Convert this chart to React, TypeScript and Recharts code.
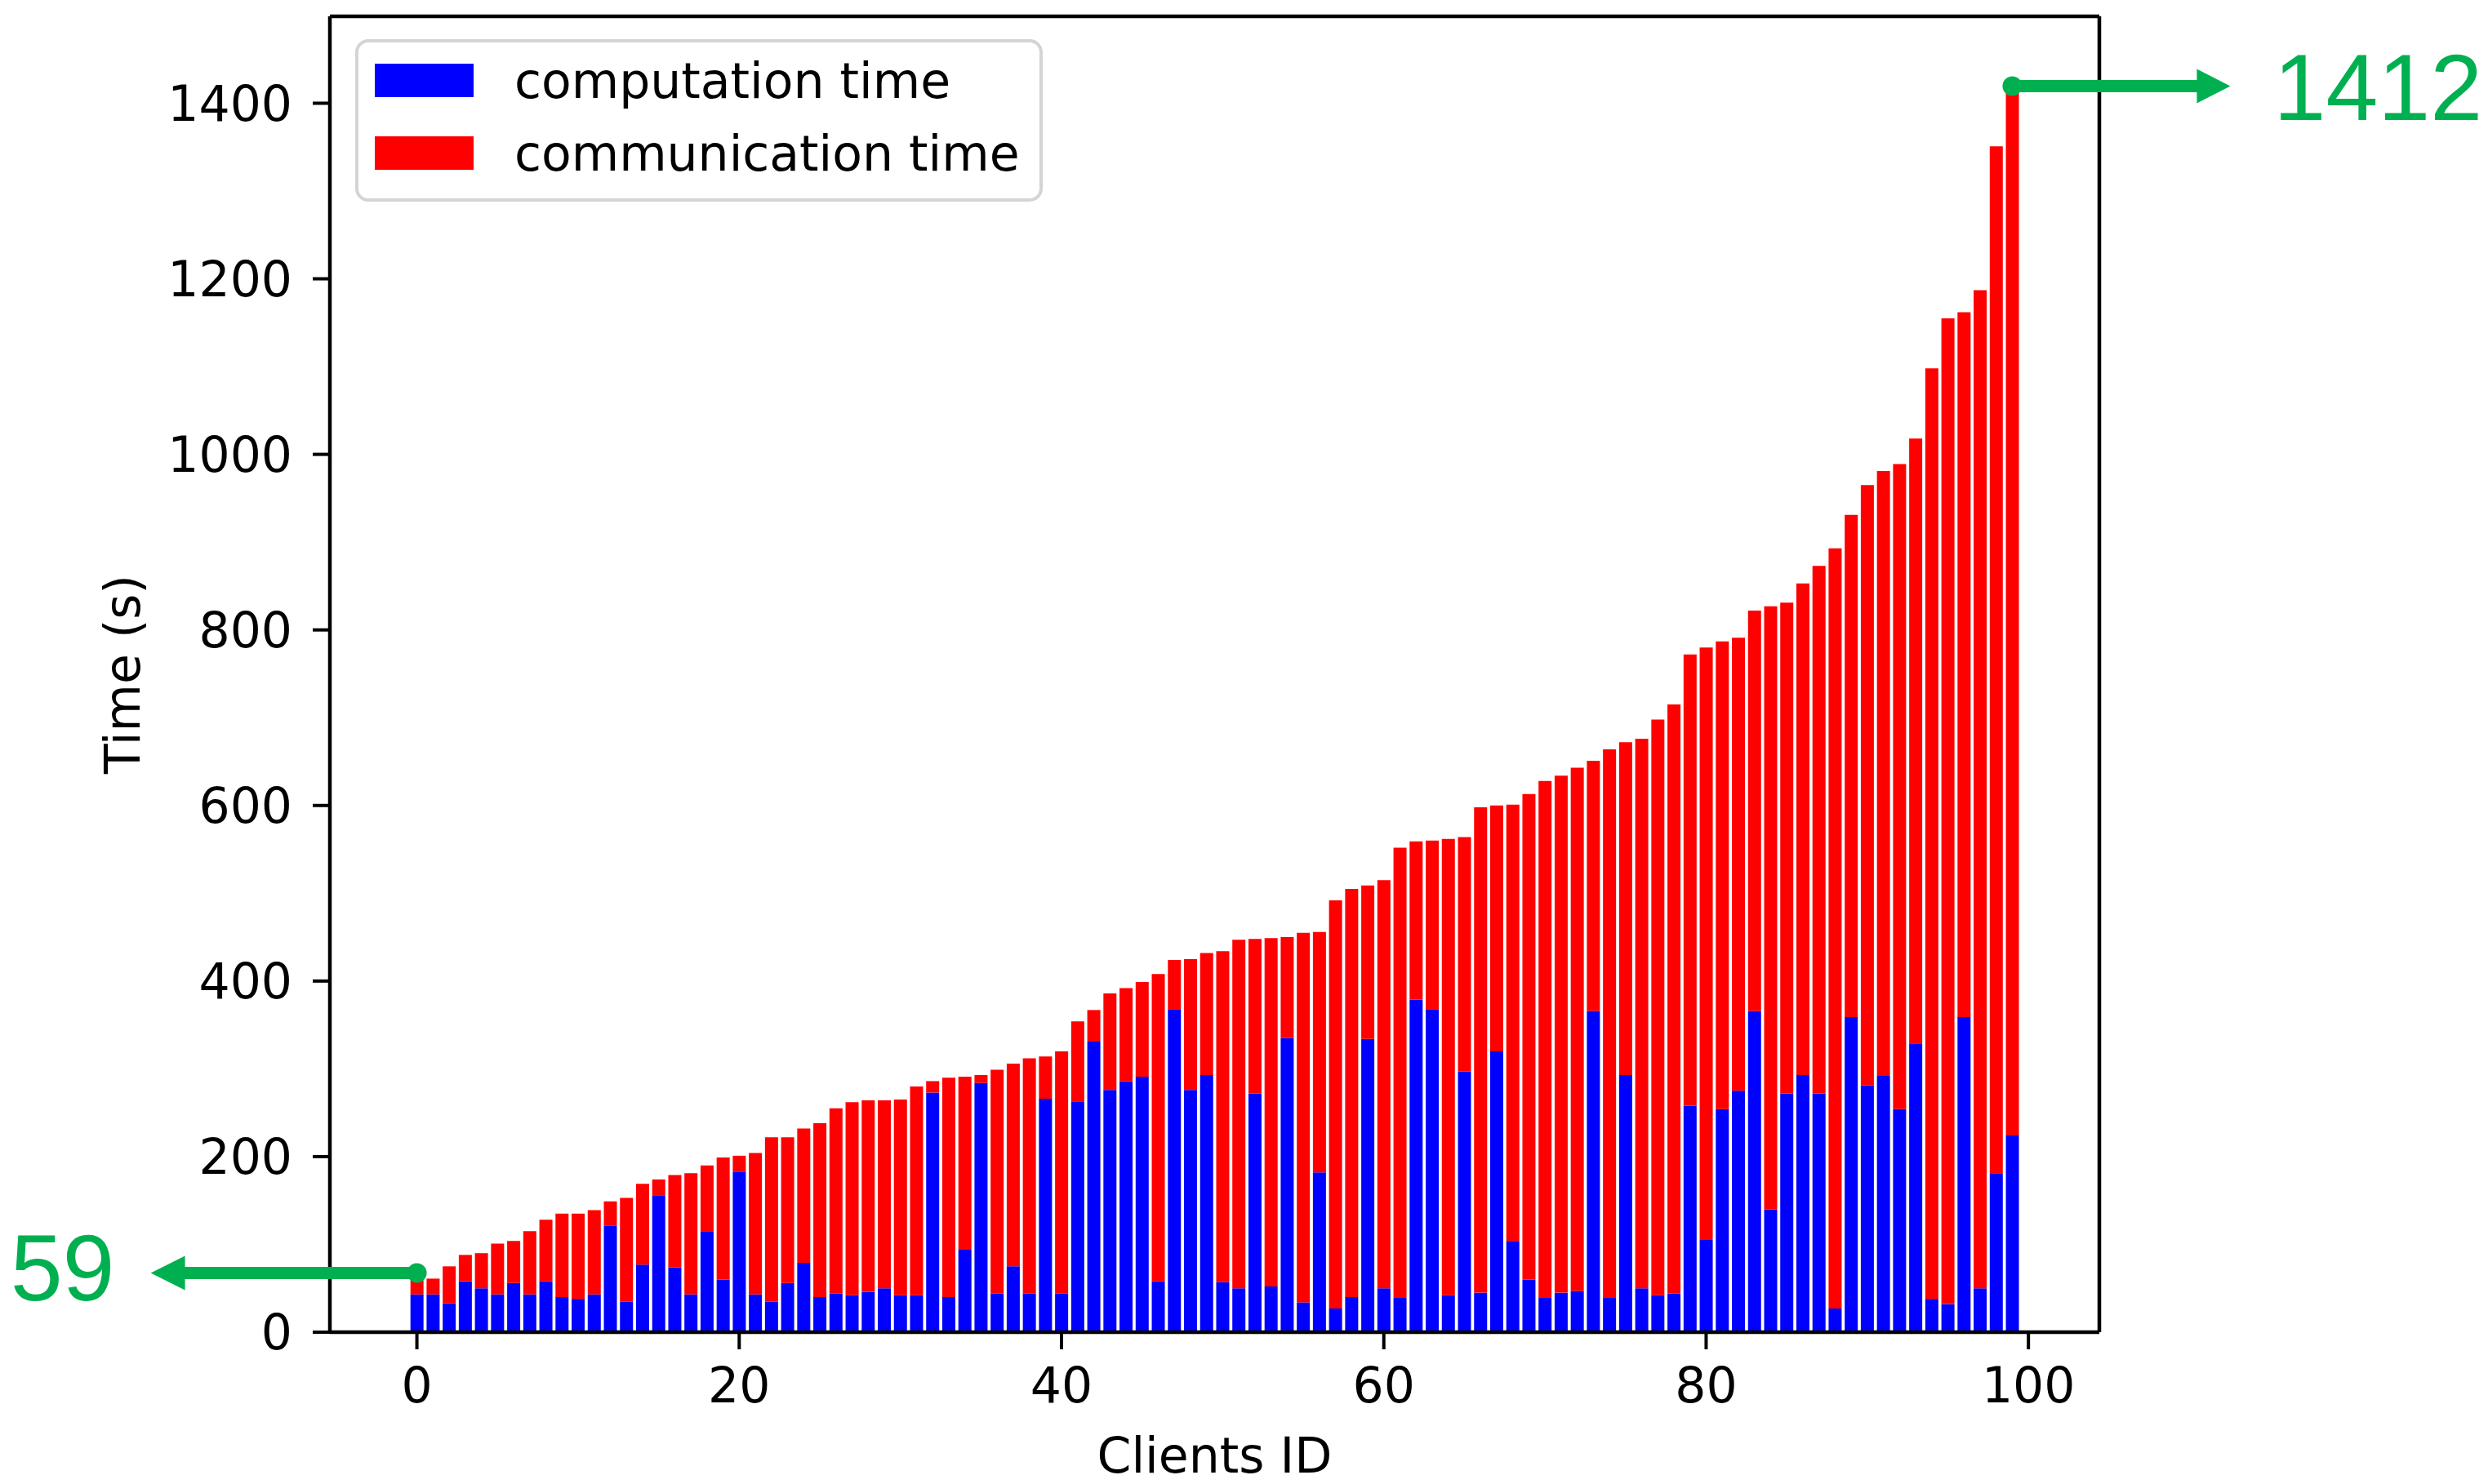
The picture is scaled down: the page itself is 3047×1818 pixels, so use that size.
import { BarChart, Bar, XAxis, YAxis, CartesianGrid, Legend, ReferenceDot } from 'recharts';

// #region Sample data
// time (s) per client, sorted by total time
const computation = [
  43, 43, 33, 58, 50, 43, 56, 43, 58, 40,
  38, 43, 121, 35, 77, 156, 74, 43, 115, 60,
  183, 43, 35, 56, 79, 40, 44, 42, 46, 50,
  42, 42, 273, 40, 94, 284, 44, 75, 44, 266,
  44, 263, 331, 276, 286, 291, 58, 368, 276, 293,
  57, 50, 272, 52, 335, 34, 182, 27, 40, 334,
  50, 39, 379, 368, 42, 297, 45, 320, 104, 60,
  39, 45, 47, 366, 39, 293, 50, 42, 44, 258,
  105, 254, 275, 366, 140, 272, 293, 272, 27, 359,
  281, 292, 254, 329, 38, 32, 359, 50, 181, 224,
];

const communication = [
  16, 18, 42, 30, 40, 58, 48, 72, 70, 95,
  97, 96, 28, 118, 92, 18, 105, 138, 75, 139,
  18, 161, 187, 166, 153, 198, 211, 220, 218, 214,
  223, 238, 13, 250, 197, 9, 255, 231, 268, 48,
  276, 91, 36, 110, 106, 108, 350, 56, 149, 139,
  377, 397, 176, 397, 115, 421, 274, 465, 465, 175,
  465, 513, 180, 192, 520, 267, 553, 280, 497, 553,
  589, 589, 596, 285, 625, 379, 626, 656, 671, 514,
  675, 533, 516, 456, 687, 559, 560, 601, 866, 572,
  684, 689, 735, 689, 1060, 1123, 803, 1137, 1170, 1188,
];

const clientIds = computation.map((_, i) => i);
const seriesNames = ['computation time', 'communication time'];
const xTicks = [0, 20, 40, 60, 80, 100];
const yTicks = [0, 200, 400, 600, 800, 1000, 1200, 1400];

// annotated extremes
const minClient = 0;
const minTotal = 59;
const maxClient = 99;
const maxTotal = 1412;
// #endregion

const data = clientIds.map((id, i) => ({
  id,
  computation: computation[i],
  communication: communication[i],
}));

const W = 3047;
const H = 1818;
const PLOT_LEFT = 404;
const PLOT_TOP = 20;
const PLOT_RIGHT = 2571;
const PLOT_BOTTOM = 1632;

const GREEN = '#00B050';
const AXIS_FONT = 'DejaVu Sans';
const ANNOT_FONT = 'Liberation Sans, Arial, sans-serif';

const LeftArrow = (props: any) => {
  const { cx, cy } = props;
  const ay = cy - 9;
  return (
    <g>
      <line x1={cx} y1={ay} x2={cx - 285} y2={ay} stroke={GREEN} strokeWidth={15} />
      <polygon points={`${cx - 326},${ay} ${cx - 284},${ay - 21} ${cx - 284},${ay + 21}`} fill={GREEN} />
      <circle cx={cx} cy={ay} r={12} fill={GREEN} />
      <text x={cx - 370} y={ay + 33} textAnchor="end" fontSize={115} fontFamily={ANNOT_FONT} fill={GREEN}>
        {minTotal}
      </text>
    </g>
  );
};

const RightArrow = (props: any) => {
  const { cx, cy } = props;
  const ay = cy - 8;
  return (
    <g>
      <line x1={cx} y1={ay} x2={cx + 228} y2={ay} stroke={GREEN} strokeWidth={15} />
      <polygon points={`${cx + 267},${ay} ${cx + 226},${ay - 21} ${cx + 226},${ay + 21}`} fill={GREEN} />
      <circle cx={cx} cy={ay} r={12} fill={GREEN} />
      <text x={cx + 320} y={ay + 41} textAnchor="start" fontSize={115} fontFamily={ANNOT_FONT} fill={GREEN}>
        {maxTotal}
      </text>
    </g>
  );
};

const LegendBox = (props: any) => {
  const items = [...(props.payload || [])].sort(
    (a: any, b: any) => seriesNames.indexOf(a.value) - seriesNames.indexOf(b.value),
  );
  return (
    <svg width={842} height={199} style={{ display: 'block' }}>
      <rect x={2} y={2} width={838} height={195} rx={14} ry={14} fill="#ffffff" fillOpacity={0.8} stroke="#d4d4d4" strokeWidth={4} />
      {items.map((entry: any, i: number) => (
        <g key={entry.value}>
          <rect x={24} y={30 + i * 89} width={121} height={41} fill={entry.color} />
          <text x={195} y={72 + i * 89} fontSize={60} fontFamily={AXIS_FONT} fill="#000">
            {entry.value}
          </text>
        </g>
      ))}
    </svg>
  );
};

const ClientTimeChart = () => {
  const tickStyle = { fontSize: 60, fill: '#000', fontFamily: AXIS_FONT };
  return (
    <div style={{ position: 'absolute', left: 0, top: 0, width: W, height: H, background: '#fff' }}>
      <style>{'body{margin:0;overflow:hidden;background:#fff}'}</style>
      <BarChart
        width={W}
        height={H}
        data={data}
        margin={{ top: PLOT_TOP, right: W - PLOT_RIGHT, left: 0, bottom: 0 }}
      >
        <CartesianGrid
          horizontal
          vertical
          horizontalPoints={[PLOT_TOP]}
          verticalPoints={[PLOT_RIGHT]}
          stroke="#000"
          strokeWidth={4.5}
        />
        <Legend
          layout="vertical"
          align="center"
          verticalAlign="middle"
          wrapperStyle={{ left: 435, top: 48, width: 842, height: 199 }}
          content={<LegendBox />}
        />
        <Bar dataKey="computation" name={seriesNames[0]} stackId="a" fill="#0000ff" isAnimationActive={false} />
        <Bar dataKey="communication" name={seriesNames[1]} stackId="a" fill="#ff0000" isAnimationActive={false} />
        <XAxis
          dataKey="id"
          type="number"
          domain={[-5.4, 104.4]}
          ticks={xTicks}
          interval={0}
          height={H - PLOT_BOTTOM}
          tickSize={21}
          tickMargin={22}
          tick={tickStyle}
          axisLine={{ stroke: '#000', strokeWidth: 4.5 }}
          tickLine={{ stroke: '#000', strokeWidth: 4 }}
          label={{
            value: 'Clients ID',
            content: () => (
              <text x={(PLOT_LEFT + PLOT_RIGHT) / 2} y={1804} textAnchor="middle" fontSize={60} fontFamily={AXIS_FONT} fill="#000">
                Clients ID
              </text>
            ),
          }}
        />
        <YAxis
          type="number"
          domain={[0, 1499]}
          ticks={yTicks}
          interval={0}
          width={PLOT_LEFT}
          tickSize={21}
          tickMargin={25}
          tick={tickStyle}
          axisLine={{ stroke: '#000', strokeWidth: 4.5 }}
          tickLine={{ stroke: '#000', strokeWidth: 4 }}
          label={{
            value: 'Time (s)',
            content: () => (
              <text
                x={150}
                y={(PLOT_TOP + PLOT_BOTTOM) / 2}
                transform={`rotate(-90 150 ${(PLOT_TOP + PLOT_BOTTOM) / 2})`}
                textAnchor="middle"
                dominantBaseline="central"
                fontSize={60}
                fontFamily={AXIS_FONT}
                fill="#000"
              >
                Time (s)
              </text>
            ),
          }}
        />
        <ReferenceDot x={minClient} y={minTotal} ifOverflow="visible" shape={<LeftArrow />} />
        <ReferenceDot x={maxClient} y={maxTotal} ifOverflow="visible" shape={<RightArrow />} />
      </BarChart>
    </div>
  );
};

export default function App() {
  return <ClientTimeChart />;
}
